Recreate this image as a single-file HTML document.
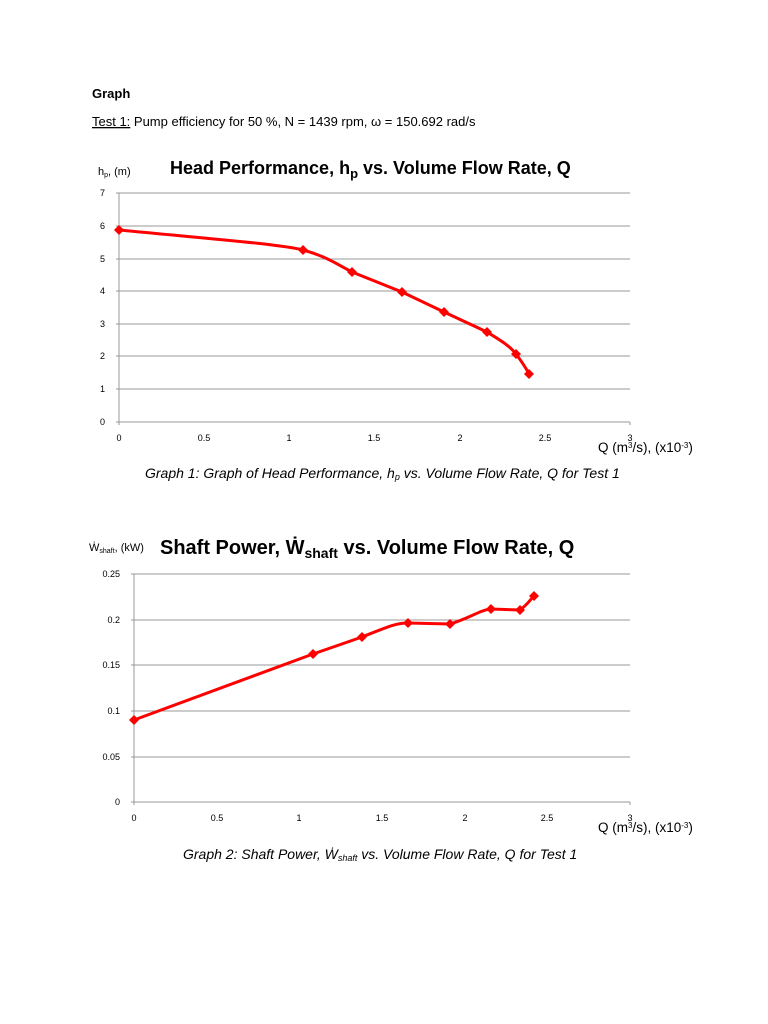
<!DOCTYPE html>
<html><head><meta charset="utf-8"><style>
html,body{margin:0;padding:0;background:#fff;}
svg{display:block;}
</style></head><body>
<svg width="768" height="1024" viewBox="0 0 768 1024" xmlns="http://www.w3.org/2000/svg" font-family="Liberation Sans, sans-serif">
<text x="92" y="98" font-size="13" font-weight="bold">Graph</text>
<text x="92" y="126" font-size="13"><tspan text-decoration="underline">Test 1:</tspan> Pump efficiency for 50 %, N = 1439 rpm, ω = 150.692 rad/s</text>

<!-- Chart 1 -->
<text x="98" y="175" font-size="11">h<tspan font-size="7" dy="2">p</tspan><tspan dy="-2">, (m)</tspan></text>
<text x="170" y="174" font-size="18" font-weight="bold">Head Performance, h<tspan font-size="13" dy="4">p</tspan><tspan dy="-4"> vs. Volume Flow Rate, Q</tspan></text>
<g stroke="#999" stroke-width="1">
<line x1="116" y1="193" x2="630" y2="193"/>
<line x1="116" y1="226" x2="630" y2="226"/>
<line x1="116" y1="259" x2="630" y2="259"/>
<line x1="116" y1="291" x2="630" y2="291"/>
<line x1="116" y1="324" x2="630" y2="324"/>
<line x1="116" y1="356" x2="630" y2="356"/>
<line x1="116" y1="389" x2="630" y2="389"/>
<line x1="116" y1="422" x2="630" y2="422"/>
<line x1="119" y1="193" x2="119" y2="425"/>
<line x1="630" y1="422" x2="630" y2="425"/>
</g>
<g font-size="9" text-anchor="end">
<text x="105" y="196">7</text><text x="105" y="229">6</text><text x="105" y="262">5</text><text x="105" y="294">4</text>
<text x="105" y="327">3</text><text x="105" y="359">2</text><text x="105" y="392">1</text><text x="105" y="425">0</text>
</g>
<g font-size="9" text-anchor="middle">
<text x="119" y="441">0</text><text x="204" y="441">0.5</text><text x="289" y="441">1</text><text x="374" y="441">1.5</text>
<text x="460" y="441">2</text><text x="545" y="441">2.5</text><text x="630" y="441">3</text>
</g>
<text x="598" y="452" font-size="13.5">Q (m<tspan font-size="8" dy="-4">3</tspan><tspan dy="4">/s), (x10</tspan><tspan font-size="8" dy="-4">-3</tspan><tspan dy="4">)</tspan></text>
<path d="M119,230 C200,238 280,244 303,250 C325,256 335,263 352,272 L402,292 L444,312 L487,332 C500,340 510,346 516,354 C522,362 526,368 529,374" fill="none" stroke="#f00" stroke-width="3"/>
<g fill="#f00">
<path d="M119,225 l5,5 -5,5 -5,-5z"/><path d="M303,245 l5,5 -5,5 -5,-5z"/><path d="M352,267 l5,5 -5,5 -5,-5z"/>
<path d="M402,287 l5,5 -5,5 -5,-5z"/><path d="M444,307 l5,5 -5,5 -5,-5z"/><path d="M487,327 l5,5 -5,5 -5,-5z"/>
<path d="M516,349 l5,5 -5,5 -5,-5z"/><path d="M529,369 l5,5 -5,5 -5,-5z"/>
</g>
<text x="145" y="478" font-size="14" font-style="italic">Graph 1: Graph of Head Performance, h<tspan font-size="9" dy="2">p</tspan><tspan dy="-2"> vs. Volume Flow Rate, Q for Test 1</tspan></text>

<!-- Chart 2 -->
<text x="89" y="551" font-size="11">Ẇ<tspan font-size="7" dy="2">shaft</tspan><tspan dy="-2">, (kW)</tspan></text>
<text x="160" y="554" font-size="20" font-weight="bold">Shaft Power, Ẇ<tspan font-size="14" dy="4">shaft</tspan><tspan dy="-4"> vs. Volume Flow Rate, Q</tspan></text>
<g stroke="#999" stroke-width="1">
<line x1="131" y1="574" x2="630" y2="574"/>
<line x1="131" y1="620" x2="630" y2="620"/>
<line x1="131" y1="665" x2="630" y2="665"/>
<line x1="131" y1="711" x2="630" y2="711"/>
<line x1="131" y1="757" x2="630" y2="757"/>
<line x1="131" y1="802" x2="630" y2="802"/>
<line x1="134" y1="574" x2="134" y2="805"/>
<line x1="630" y1="802" x2="630" y2="805"/>
</g>
<g font-size="9" text-anchor="end">
<text x="120" y="577">0.25</text><text x="120" y="623">0.2</text><text x="120" y="668">0.15</text>
<text x="120" y="714">0.1</text><text x="120" y="760">0.05</text><text x="120" y="805">0</text>
</g>
<g font-size="9" text-anchor="middle">
<text x="134" y="821">0</text><text x="217" y="821">0.5</text><text x="299" y="821">1</text><text x="382" y="821">1.5</text>
<text x="465" y="821">2</text><text x="547" y="821">2.5</text><text x="630" y="821">3</text>
</g>
<text x="598" y="832" font-size="13.5">Q (m<tspan font-size="8" dy="-4">3</tspan><tspan dy="4">/s), (x10</tspan><tspan font-size="8" dy="-4">-3</tspan><tspan dy="4">)</tspan></text>
<path d="M134,720 L313,654 L362,637 C385,628 395,623 408,623 L450,624 C470,618 480,610 491,609 L520,610 C527,605 530,600 534,596" fill="none" stroke="#f00" stroke-width="3"/>
<g fill="#f00">
<path d="M134,715 l5,5 -5,5 -5,-5z"/><path d="M313,649 l5,5 -5,5 -5,-5z"/><path d="M362,632 l5,5 -5,5 -5,-5z"/>
<path d="M408,618 l5,5 -5,5 -5,-5z"/><path d="M450,619 l5,5 -5,5 -5,-5z"/><path d="M491,604 l5,5 -5,5 -5,-5z"/>
<path d="M520,605 l5,5 -5,5 -5,-5z"/><path d="M534,591 l5,5 -5,5 -5,-5z"/>
</g>
<text x="183" y="859" font-size="14" font-style="italic">Graph 2: Shaft Power, Ẇ<tspan font-size="9" dy="2">shaft</tspan><tspan dy="-2"> vs. Volume Flow Rate, Q for Test 1</tspan></text>
</svg>
</body></html>
